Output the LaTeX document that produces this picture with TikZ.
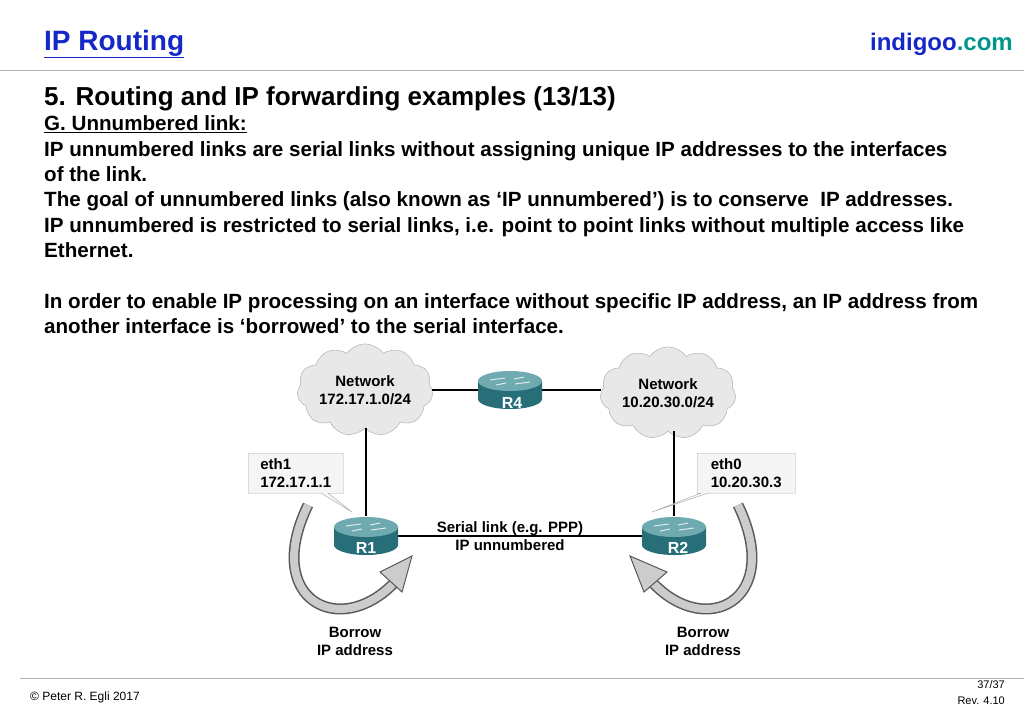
\documentclass[tikz,border=0pt]{standalone}
\usepackage{fontspec}
\setmainfont{Liberation Sans}
\usetikzlibrary{shapes.geometric,shapes.symbols,shapes.callouts}
\definecolor{ttl}{RGB}{20,40,200}
\definecolor{com}{RGB}{0,150,140}
\definecolor{rt}{RGB}{40,110,120}
\definecolor{rttop}{RGB}{110,170,175}
\begin{document}
\begin{tikzpicture}[x=1pt,y=-1pt,
  body/.style={font=\fontsize{20.6}{25.3}\selectfont\bfseries, anchor=north west, inner sep=0},
  router/.style={rectangle, minimum width=64, minimum height=40, inner sep=0},
  rlabel/.style={font=\fontsize{16}{16}\selectfont\bfseries, text=white},
  netcloud/.style={cloud, cloud puffs=11, cloud puff arc=110, aspect=1.7, draw=gray!70, fill=gray!18, minimum width=128, minimum height=78, align=center, font=\fontsize{15}{18}\selectfont\bfseries, inner sep=0},
  small/.style={font=\fontsize{15}{18}\selectfont\bfseries, align=center},
  link/.style={line width=2pt},
  bor/.style={line width=11pt, gray!70!black},
  borin/.style={line width=8pt, gray!40}]
\useasboundingbox (0,0) rectangle (1024,709);
\fill[white] (0,0) rectangle (1024,709);
% header
\node[anchor=base west, inner sep=0, font=\fontsize{28}{28}\selectfont\bfseries, text=ttl] (title) at (44,50) {\underline{IP Routing}};
\node[anchor=base east, inner sep=0, font=\fontsize{24}{24}\selectfont\bfseries] (logo) at (1013,50) {\textcolor{ttl}{indigoo}\textcolor{com}{.com}};
\draw[gray!60, line width=1pt] (0,70) -- (1024,70);
\node[anchor=base west, inner sep=0, font=\fontsize{26}{26}\selectfont\bfseries] (h5) at (44,105) {5. Routing and IP forwarding examples (13/13)};
\node[body] (txt) at (44,113) {\begin{tabular}{@{}l@{}}\underline{G. Unnumbered link:}\\
IP unnumbered links are serial links without assigning unique IP addresses to the interfaces\\
of the link.\\
The goal of unnumbered links (also known as ‘IP unnumbered’) is to conserve\ \ IP addresses.\\
IP unnumbered is restricted to serial links, i.e. point to point links without multiple access like\\
Ethernet.\\
\\
In order to enable IP processing on an interface without specific IP address, an IP address from\\
another interface is ‘borrowed’ to the serial interface.\end{tabular}};
% diagram
\node[netcloud] (n1) at (365,390) {Network\\172.17.1.0/24};
\node[netcloud] (n2) at (668,393) {Network\\10.20.30.0/24};
\node[router] (r4) at (510,390) {};
\node[router] (r1) at (366,536) {};
\node[router] (r2) at (674,536) {};
\draw[link] (n1.east |- r4) -- (r4.west);
\draw[link] (r4.east) -- (r4.east -| n2.west);
\draw[link] (n1.south -| r1) -- (r1.north);
\draw[link] (n2.south -| r2) -- (r2.north);
\draw[link] (r1.east) -- (r2.west);
\foreach \r in {r4,r1,r2}{
  \fill[rt] ([shift={(-32,-9)}]\r.center) -- ([shift={(-32,9)}]\r.center) arc[start angle=180,end angle=0,x radius=32,y radius=10] -- ([shift={(32,-9)}]\r.center) -- cycle;
  \fill[rttop] ([shift={(0,-9)}]\r.center) ellipse[x radius=32,y radius=10];
  \draw[white!85!rt, line width=1pt] ([shift={(-20,-10)}]\r.center) -- ([shift={(-5,-12)}]\r.center) ([shift={(20,-8)}]\r.center) -- ([shift={(5,-6)}]\r.center)
    ([shift={(-14,-5)}]\r.center) -- ([shift={(-4,-7)}]\r.center) ([shift={(14,-13)}]\r.center) -- ([shift={(4,-11)}]\r.center);
}
\node[rlabel] (l4) at (512,403) {R4};
\node[rlabel] (l1) at (366,548) {R1};
\node[rlabel] (l2) at (678,548) {R2};
\node[small] (ser) at (510,536) {Serial link (e.g. PPP)\\IP unnumbered};
% callouts
\coordinate (p1) at (352,512);
\coordinate (p2) at (652,512);
\node[rectangle callout, callout absolute pointer=(p1), draw=gray!70, fill=gray!8, minimum width=95, minimum height=40, anchor=north west, align=left, font=\fontsize{15}{18}\selectfont\bfseries, inner sep=3] (c1) at (248,453) {eth1\\172.17.1.1};
\node[rectangle callout, callout absolute pointer=(p2), draw=gray!70, fill=gray!8, minimum width=98, minimum height=40, anchor=north west, align=left, font=\fontsize{15}{18}\selectfont\bfseries, inner sep=3] (c2) at (697,453) {eth0\\10.20.30.3};
% borrow arrows
\coordinate (a1s) at (308,505); \coordinate (a1e) at (395,582);
\coordinate (a2s) at (738,505); \coordinate (a2e) at (652,582);
\foreach \s/\e/\c/\d in {a1s/a1e/{(262,600)}/{(340,640)},a2s/a2e/{(784,600)}/{(706,640)}}{
  \draw[bor] (\s) .. controls \c and \d .. (\e);
  \draw[borin] (\s) .. controls \c and \d .. (\e);
}
\draw[gray!70!black, fill=gray!40, line width=1pt] (380,572) -- (412,556) -- (402,592) -- cycle;
\draw[gray!70!black, fill=gray!40, line width=1pt] (667,572) -- (630,556) -- (644,592) -- cycle;
\node[small] (b1) at (355,641) {Borrow\\IP address};
\node[small] (b2) at (703,641) {Borrow\\IP address};
% footer
\draw[gray!60, line width=1pt] (20,678) -- (1024,678);
\node[anchor=base west, inner sep=0, font=\fontsize{12}{12}\selectfont] (cp) at (30,700) {© Peter R. Egli 2017};
\node[anchor=north east, inner sep=0, align=right, font=\fontsize{11}{16}\selectfont] (pg) at (1005,680) {37/37\\Rev. 4.10};
\end{tikzpicture}
\end{document}
